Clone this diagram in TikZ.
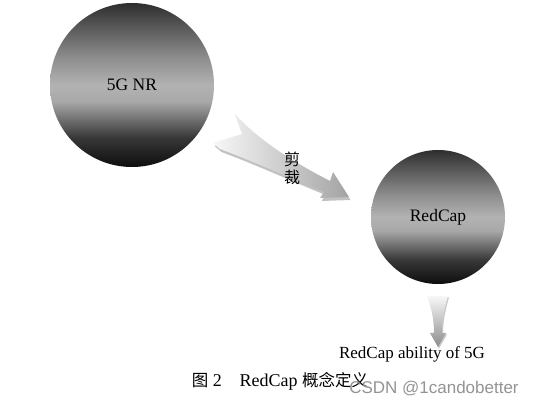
\documentclass[tikz,border=0pt]{standalone}
\usepackage{fontspec}
\setmainfont{Liberation Serif}
\newfontfamily\cjk{Noto Sans CJK SC}
\newfontfamily\markfont{Liberation Sans}
\usetikzlibrary{positioning,calc}
% dark top, light band a little below the middle, black bottom
\pgfdeclareverticalshading{ballshade}{100bp}{color(0bp)=(black!95); color(25bp)=(black!95); color(34bp)=(black!78); color(45bp)=(black!34); color(50bp)=(black!30); color(58bp)=(black!44); color(68bp)=(black!66); color(75bp)=(black!82); color(100bp)=(black!82)}

\begin{document}
\begin{tikzpicture}[x=1pt,y=-1pt,
    ball/.style={circle, shading=ballshade, inner sep=0pt, font=\fontsize{17.5}{19}\selectfont},
    lbl/.style={inner sep=0pt, font=\fontsize{17}{19}\selectfont}]
    \useasboundingbox[fill=white] (0,0) rectangle (536,406);
    % the two spheres
    \node[ball, minimum size=164pt] (nr) at (132,85) {5G NR};
    \node[ball, minimum size=134pt] (rc) at (438,217) {RedCap};
    % cut arrow: shadow first, then the light face
    \def\cutarrow{(235,114) .. controls (258,140) and (295,163) .. (330,181) -- (333,172) -- (349,197)
        -- (320,198) -- (324,192) .. controls (290,178) and (250,160) .. (220,149) -- (213,143) -- (242,134) -- cycle}
    \fill[black!40, opacity=0.6, shift={(1.5,3)}] \cutarrow;
    \shade[left color=black!3, right color=black!36] \cutarrow;
    \node[inner sep=0pt, font=\cjk\fontsize{16}{17}\selectfont, align=center] (cut) at (292,168) {剪\\[1pt]裁};
    % down arrow
    \def\dropArrow{(427,296) -- (448,296) .. controls (444,310) and (442,320) .. (442,333) -- (446,333)
        -- (438,347) -- (430,333) -- (434,333) .. controls (434,320) and (432,310) .. (427,296) -- cycle}
    \fill[black!35, opacity=0.6, shift={(1,1.5)}] \dropArrow;
    \shade[top color=black!3, bottom color=black!45] \dropArrow;
    \node[lbl] (ability) at (412,354) {RedCap ability of 5G};
    % caption and mark
    \node[lbl, font=\fontsize{18}{20}\selectfont] (cap) at (280,381) {{\cjk\fontsize{16.5}{18}\selectfont 图} 2\hspace{1em}RedCap {\cjk\fontsize{16.5}{18}\selectfont 概念定义}};
    \node[inner sep=0pt, text=black!42, font=\markfont\fontsize{17}{18}\selectfont] (mark) at (434,389) {CSDN @1candobetter};
\end{tikzpicture}
\end{document}
